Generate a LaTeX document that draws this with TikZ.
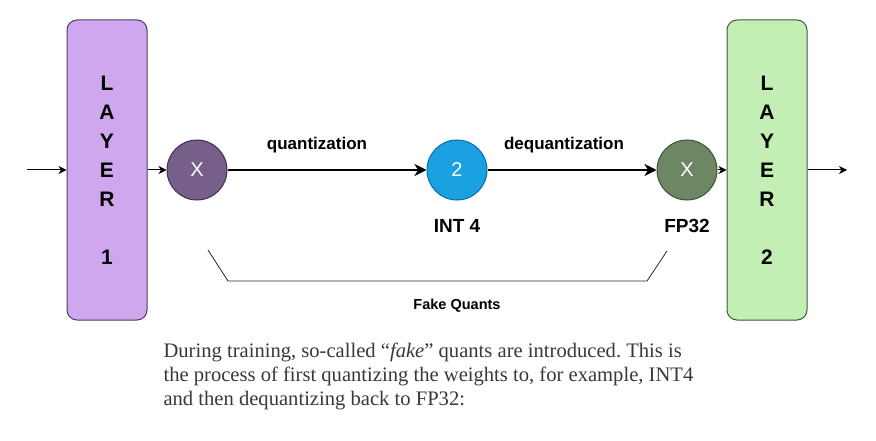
\documentclass[tikz,border=0pt]{standalone}
\usepackage{fontspec}
\setmainfont{Liberation Serif}
\newfontfamily\diafont{Liberation Sans}
\usetikzlibrary{arrows.meta}
\frenchspacing
\definecolor{layerA}{HTML}{CFA7EF}
\definecolor{layerAline}{HTML}{4A3A66}
\definecolor{layerB}{HTML}{C4EFB4}
\definecolor{layerBline}{HTML}{3F5A36}
\definecolor{weightA}{HTML}{76608A}
\definecolor{weightAline}{HTML}{432D57}
\definecolor{weightB}{HTML}{6D8764}
\definecolor{weightBline}{HTML}{3A5431}
\definecolor{intq}{HTML}{1BA1E2}
\definecolor{intqline}{HTML}{006EAF}
\definecolor{prose}{HTML}{383838}
\begin{document}
\begin{tikzpicture}[x=1pt,y=-1pt,
    layer/.style={draw,line width=1pt,rounded corners=10pt,minimum width=80pt,minimum height=300pt,
                  inner sep=0pt,align=center,font=\diafont\bfseries\fontsize{21}{29}\selectfont},
    weight/.style={circle,draw,line width=1pt,minimum size=60pt,inner sep=0pt,text=white,
                   font=\diafont\fontsize{20}{22}\selectfont},
    lbl/.style={font=\diafont\bfseries\fontsize{17}{20}\selectfont},
    prosetext/.style={anchor=base west,text=prose,font=\fontsize{20.6}{24}\selectfont},
    thin arrow/.style={line width=1pt,-{Stealth[length=8pt,width=8pt,inset=2.5pt]}},
    thick arrow/.style={line width=2pt,-{Stealth[length=12pt,width=12pt,inset=3.5pt]}}]
        \useasboundingbox (0,0) rectangle (876,441);
        \draw (107,170) node[layer,fill=layerA,draw=layerAline] (l1) {L\\A\\Y\\E\\R\\\mbox{}\\1};
        \draw (767,170) node[layer,fill=layerB,draw=layerBline] (l2) {L\\A\\Y\\E\\R\\\mbox{}\\2};
        \draw (197,170) node[weight,fill=weightA,draw=weightAline] (w1) {X};
        \draw (457,170) node[weight,fill=intq,draw=intqline] (q) {2};
        \draw (687,170) node[weight,fill=weightB,draw=weightBline] (w2) {X};
        \coordinate (in) at (27,170);
        \coordinate (out) at (847,170);
        \node[lbl] at (317,145) {quantization};
        \node[lbl] at (564,145) {dequantization};
        \node[lbl,font=\diafont\bfseries\fontsize{19}{22}\selectfont] at (457,226) {INT 4};
        \node[lbl,font=\diafont\bfseries\fontsize{19}{22}\selectfont] at (687,226) {FP32};
        \node[lbl,font=\diafont\bfseries\fontsize{14.5}{17}\selectfont] at (457,306) {Fake Quants};
        \draw (in) edge[thin arrow] (l1.west)
              (l1.east) edge[thin arrow] (w1)
              (w1) edge[thick arrow] (q)
              (q) edge[thick arrow] (w2)
              (w2) edge[thin arrow] (l2.west)
              (l2.east) edge[thin arrow] (out);
        % bracket under the fake quant pair
        \draw[line width=0.8pt,black!85] (208,250) -- (228,281) -- (647,281) -- (667,251);
        \node[prosetext] at (160,357)
            {During training, so-called “\textit{fake}” quants are introduced. This is};
        \node[prosetext] at (160,381)
            {the process of first quantizing the weights to, for example, INT4};
        \node[prosetext] at (160,405)
            {and then dequantizing back to FP32:};
    \end{tikzpicture}
\end{document}
